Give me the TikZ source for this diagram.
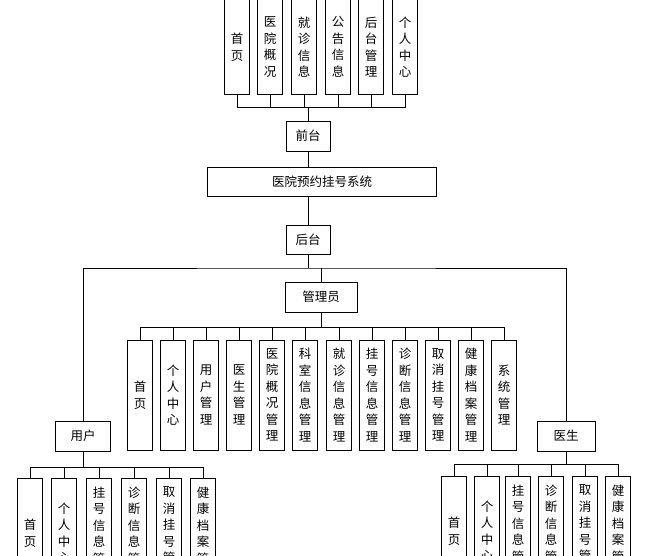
\documentclass[tikz,border=0pt]{standalone}
\usepackage{fontspec}
\setmainfont{Noto Sans CJK SC}
\begin{document}
\begin{tikzpicture}[x=1pt,y=-1pt,
  bx/.style={draw,line width=0.6pt,fill=white,font=\fontsize{12.5}{16.5}\selectfont,align=center,inner sep=0pt},
  vb/.style={bx,minimum width=25pt,minimum height=#1},
  ln/.style={line width=0.6pt}]
\useasboundingbox (0,0) rectangle (647,556);
\clip (0,0) rectangle (647,556);
% top row
\foreach \x/\t/\n in {237/首\\页/t1,270/医\\院\\概\\况/t2,304/就\\诊\\信\\息/t3,338/公\\告\\信\\息/t4,371/后\\台\\管\\理/t5,405/个\\人\\中\\心/t6}
  \node[vb=95pt] (\n) at (\x,47) {\t};
\node[bx,minimum width=44pt,minimum height=30pt] (qt) at (308,136) {前台};
\node[bx,minimum width=229pt,minimum height=29pt] (sys) at (322,182) {医院预约挂号系统};
\node[bx,minimum width=44pt,minimum height=29pt] (ht) at (308,240) {后台};
\node[bx,minimum width=72pt,minimum height=30pt] (adm) at (321,297) {管理员};
\node[bx,minimum width=55pt,minimum height=30pt] (usr) at (83,436) {用户};
\node[bx,minimum width=58pt,minimum height=30pt] (doc) at (566,436) {医生};
\coordinate (tb) at (308,107);
\foreach \n in {t1,t2,t3,t4,t5,t6} \draw[ln] (\n.south) |- (tb);
\draw[ln] (tb) -- (qt.north);
\draw[ln] (qt.south) -- (qt.south |- sys.north);
\draw[ln] (ht.north |- sys.south) -- (ht.north);
\coordinate (hb) at (308,268);
\draw[ln] (ht.south) -- (hb);
\draw[ln] (usr.north) |- (hb) -| (doc.north);
\draw[ln] (321,268) -- (adm.north);
% admin
\coordinate (ab) at (321,327);
\draw[ln] (adm.south) -- (ab);
\foreach \x/\t/\n in {140/首\\页/a1,173/个\\人\\中\\心/a2,206/用\\户\\管\\理/a3,239/医\\生\\管\\理/a4,272/医\\院\\概\\况\\管\\理/a5,305/科\\室\\信\\息\\管\\理/a6,339/就\\诊\\信\\息\\管\\理/a7,372/挂\\号\\信\\息\\管\\理/a8,405/诊\\断\\信\\息\\管\\理/a9,438/取\\消\\挂\\号\\管\\理/a10,471/健\\康\\档\\案\\管\\理/a11,504/系\\统\\管\\理/a12}
  {\node[vb=110pt] (\n) at (\x,395) {\t}; \draw[ln] (\n.north) |- (ab);}
% user
\coordinate (ub) at (83,467);
\draw[ln] (usr.south) -- (ub);
\foreach \x/\t/\n in {30/首\\页/u1,64/个\\人\\中\\心/u2,99/挂\\号\\信\\息\\管\\理/u3,134/诊\\断\\信\\息\\管\\理/u4,169/取\\消\\挂\\号\\管\\理/u5,203/健\\康\\档\\案\\管\\理/u6}
  {\node[vb=110pt,anchor=north] (\n) at (\x,478) {\t}; \draw[ln] (\n.north) |- (ub);}
% doctor
\coordinate (db) at (566,464);
\draw[ln] (doc.south) -- (db);
\foreach \x/\t/\n in {454/首\\页/d1,487/个\\人\\中\\心/d2,518/挂\\号\\信\\息\\管\\理/d3,551/诊\\断\\信\\息\\管\\理/d4,585/取\\消\\挂\\号\\管\\理/d5,618/健\\康\\档\\案\\管\\理/d6}
  {\node[vb=110pt,anchor=north] (\n) at (\x,476) {\t}; \draw[ln] (\n.north) |- (db);}
\end{tikzpicture}
\end{document}
